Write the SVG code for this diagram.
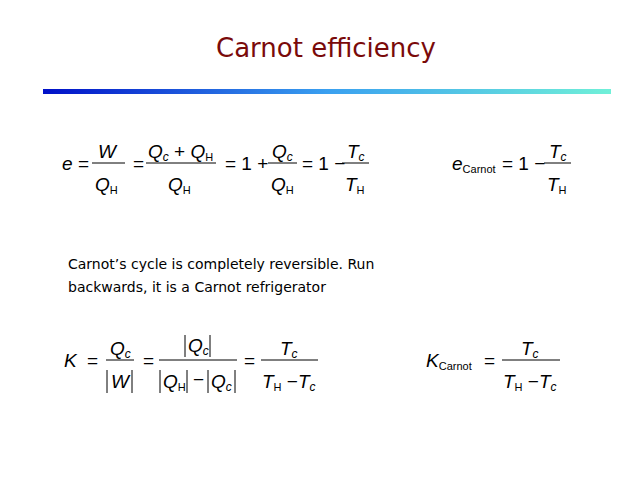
<svg xmlns="http://www.w3.org/2000/svg" width="638" height="479" viewBox="0 0 638 479">
<defs>
<linearGradient id="g" x1="0" x2="1" y1="0" y2="0"><stop offset="0" stop-color="#0010c8"/><stop offset="0.5" stop-color="#3aa0f0"/><stop offset="1" stop-color="#70f0d8"/></linearGradient>
</defs>
<style>
.t{font-family:"Liberation Sans",Arial,sans-serif;font-size:19px;fill:#000}
.i{font-style:italic}
.s{font-size:11px;font-style:normal}
.sc{font-size:12px;font-style:italic}
.f{stroke:#000;stroke-width:1;fill:none}
.c{font-family:"DejaVu Sans",sans-serif;font-size:14px;fill:#000}
</style>
<rect width="638" height="479" fill="#fff"/>
<text x="326" y="57" text-anchor="middle" font-family="DejaVu Sans, sans-serif" font-size="26" fill="#7a0a0a">Carnot efficiency</text>
<rect x="43" y="89" width="568" height="5" fill="url(#g)"/>
<g id="eq1" class="t">
<text x="62" y="170" class="t i">e</text>
<text x="78" y="170" class="t">=</text>
<text x="98" y="158" class="t i">W</text>
<line class="f" x1="92" y1="163" x2="125" y2="163"/>
<text x="95" y="191" class="t i">Q<tspan class="s" dy="3">H</tspan></text>
<text x="133" y="170" class="t">=</text>
<text x="148" y="158" class="t i">Q<tspan class="sc" dy="3">c</tspan><tspan dy="-3" font-style="normal"> + </tspan>Q<tspan class="s" dy="3">H</tspan></text>
<line class="f" x1="146" y1="163" x2="216" y2="163"/>
<text x="168" y="191" class="t i">Q<tspan class="s" dy="3">H</tspan></text>
<text x="225" y="170" class="t">= 1 +</text>
<text x="272" y="158" class="t i">Q<tspan class="sc" dy="3">c</tspan></text>
<line class="f" x1="268" y1="163" x2="297" y2="163"/>
<text x="271" y="191" class="t i">Q<tspan class="s" dy="3">H</tspan></text>
<text x="302" y="170" class="t">= 1 −</text>
<text x="347" y="158" class="t i">T<tspan class="sc" dy="3">c</tspan></text>
<line class="f" x1="342" y1="163" x2="369" y2="163"/>
<text x="345" y="191" class="t i">T<tspan class="s" dy="3">H</tspan></text>
</g>
<g id="eq2" class="t">
<text x="452" y="170" class="t i">e<tspan class="s" dy="3">Carnot</tspan></text>
<text x="502" y="170" class="t">= 1 −</text>
<text x="549" y="158" class="t i">T<tspan class="sc" dy="3">c</tspan></text>
<line class="f" x1="544" y1="163" x2="571" y2="163"/>
<text x="547" y="191" class="t i">T<tspan class="s" dy="3">H</tspan></text>
</g>
<g id="txt">
<text x="68" y="269" class="c">Carnot’s cycle is completely reversible. Run</text>
<text x="68" y="292" class="c">backwards, it is a Carnot refrigerator</text>
</g>
<g id="eq3" class="t">
<text x="64" y="367" class="t i">K</text>
<text x="87" y="367" class="t">=</text>
<text x="110" y="355" class="t i">Q<tspan class="sc" dy="3">c</tspan></text>
<line class="f" x1="106" y1="360" x2="134" y2="360"/>
<line class="f" x1="107" y1="370" x2="107" y2="393"/>
<text x="111" y="388" class="t i">W</text>
<line class="f" x1="132" y1="370" x2="132" y2="393"/>
<text x="143" y="367" class="t">=</text>
<line class="f" x1="185" y1="335" x2="185" y2="357"/>
<text x="188" y="352" class="t i">Q<tspan class="sc" dy="3">c</tspan></text>
<line class="f" x1="210" y1="335" x2="210" y2="357"/>
<line class="f" x1="159" y1="360" x2="237" y2="360"/>
<line class="f" x1="160" y1="370" x2="160" y2="393"/>
<text x="163" y="388" class="t i">Q<tspan class="s" dy="3">H</tspan></text>
<line class="f" x1="187" y1="370" x2="187" y2="393"/>
<text x="193" y="386" class="t">−</text>
<line class="f" x1="208" y1="370" x2="208" y2="393"/>
<text x="211" y="388" class="t i">Q<tspan class="sc" dy="3">c</tspan></text>
<line class="f" x1="235" y1="370" x2="235" y2="393"/>
<text x="244" y="367" class="t">=</text>
<text x="280" y="355" class="t i">T<tspan class="sc" dy="3">c</tspan></text>
<line class="f" x1="261" y1="360" x2="318" y2="360"/>
<text x="262" y="388" class="t i">T<tspan class="s" dy="3">H</tspan><tspan dy="-3" font-style="normal"> −</tspan>T<tspan class="sc" dy="3">c</tspan></text>
</g>
<g id="eq4" class="t">
<text x="426" y="367" class="t i">K<tspan class="s" dy="3">Carnot</tspan></text>
<text x="484" y="367" class="t">=</text>
<text x="521" y="355" class="t i">T<tspan class="sc" dy="3">c</tspan></text>
<line class="f" x1="502" y1="360" x2="560" y2="360"/>
<text x="503" y="388" class="t i">T<tspan class="s" dy="3">H</tspan><tspan dy="-3" font-style="normal"> −</tspan>T<tspan class="sc" dy="3">c</tspan></text>
</g>
</svg>
